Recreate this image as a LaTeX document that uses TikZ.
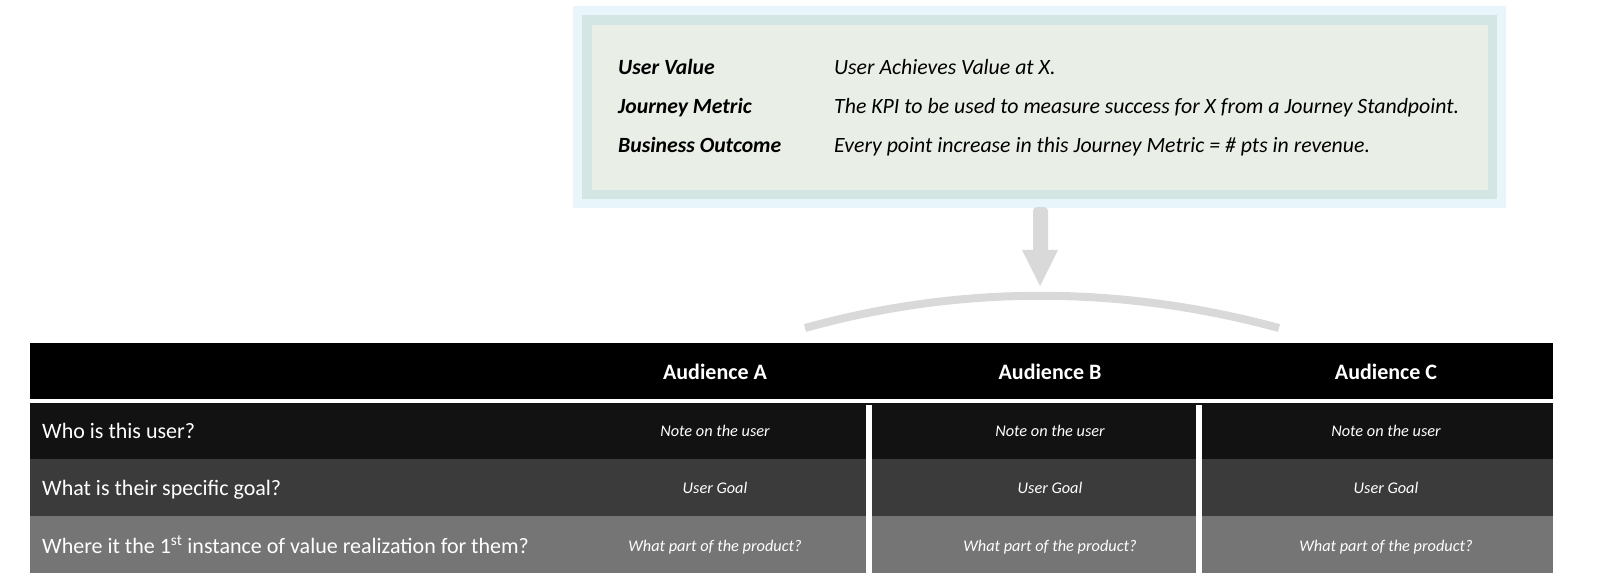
\documentclass[tikz,border=0pt]{standalone}
\usepackage{fontspec}
\setmainfont{Carlito}
\begin{document}
\begin{tikzpicture}[x=1pt,y=-1pt,
  lab/.style={anchor=base west,inner sep=0pt,font=\fontsize{21.7}{24}\selectfont\bfseries\itshape,text=black},
  val/.style={anchor=base west,inner sep=0pt,font=\fontsize{21.8}{24}\selectfont\itshape,text=black},
  hd/.style={anchor=base,font=\fontsize{22}{26}\selectfont\bfseries,text=white},
  rl/.style={anchor=base west,inner sep=0pt,font=\fontsize{22}{26}\selectfont,text=white},
  cell/.style={anchor=base,font=\fontsize{16.3}{19}\selectfont\itshape,text=white}]
\useasboundingbox (0,0) rectangle (1600,585);
\definecolor{lb}{HTML}{E8F6FB}\definecolor{tb}{HTML}{D3E6E4}\definecolor{gb}{HTML}{E9EFE6}
\definecolor{ag}{HTML}{D9D9D9}
\fill[lb] (573,6) rectangle (1506,208);
\fill[tb] (582,15) rectangle (1497,199);
\fill[gb] (592,25) rectangle (1488,190);
\node[lab] (l1) at (618,75) {User Value};
\node[lab] (l2) at (618,114) {Journey Metric};
\node[lab] (l3) at (618,153) {Business Outcome};
\node[val] (v1) at (834,75) {User Achieves Value at X.};
\node[val] (v2) at (834,114) {The KPI to be used to measure success for X from a Journey Standpoint.};
\node[val] (v3) at (834,153) {Every point increase in this Journey Metric = \# pts in revenue.};
% arrow
\fill[ag, rounded corners=4pt] (1033,207) rectangle (1048,254);
\fill[ag] (1022,250) -- (1058,250) -- (1040,286) -- cycle;
% arc
\draw[ag,line width=8pt] (805,328) .. controls (960,285) and (1120,285) .. (1279,328);
% table
\fill[black] (30,343) rectangle (1553,399);
\fill[white] (30,399) rectangle (1553,403);
\fill[black!93] (30,403) rectangle (1553,459);
\fill[black!77] (30,459) rectangle (1553,516);
\fill[black!54] (30,516) rectangle (1553,573);
\fill[white] (866,405) rectangle (872,573);
\fill[white] (1196,405) rectangle (1202,573);
\node[hd] (ha) at (715,379) {Audience A};
\node[hd] (hb) at (1050,379) {Audience B};
\node[hd] (hc) at (1386,379) {Audience C};
\node[rl] (r1) at (42,438) {Who is this user?};
\node[rl] (r2) at (42,495) {What is their specific goal?};
\node[rl] (r3) at (42,553) {Where it the 1\textsuperscript{st} instance of value realization for them?};
\foreach \x/\n in {715/a,1050/b,1386/c}{
  \node[cell] (n\n) at (\x,436) {Note on the user};
  \node[cell] (g\n) at (\x,493) {User Goal};
  \node[cell] (p\n) at (\x,551) {What part of the product?};
}
\end{tikzpicture}
\end{document}
